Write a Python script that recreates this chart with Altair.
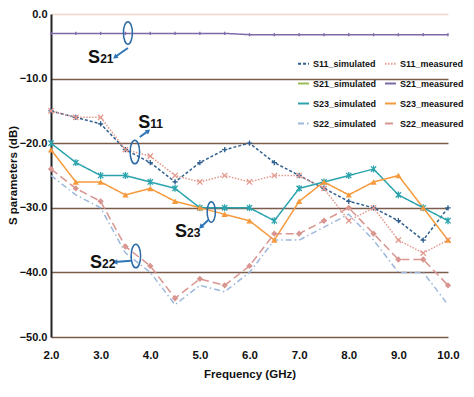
import altair as alt
import pandas as pd

# ---------------- data ----------------
freq = [2.0, 2.5, 3.0, 3.5, 4.0, 4.5, 5.0, 5.5, 6.0, 6.5, 7.0, 7.5, 8.0, 8.5, 9.0, 9.5, 10.0]
s11_sim = [-15, -16, -17, -21, -23, -26, -23, -21, -20, -23, -25, -27, -29, -30, -32, -35, -30]
s11_meas = [-15, -16, -16, -21, -22, -25, -26, -25, -26, -25, -25, -27, -32, -30, -35, -37, -35]
s21_sim = [-3, -3, -3, -3, -3, -3, -3, -3, -3.2, -3.2, -3.2, -3.2, -3.2, -3.2, -3.2, -3.2, -3.2]
s21_meas = [-3, -3, -3, -3, -3, -3, -3, -3, -3.2, -3.2, -3.2, -3.2, -3.2, -3.2, -3.2, -3.2, -3.2]
s23_sim = [-20, -23, -25, -25, -26, -27, -30, -30, -30, -32, -27, -26, -25, -24, -28, -30, -32]
s23_meas = [-21, -26, -26, -28, -27, -29, -30, -31, -32, -35, -29, -26, -28, -26, -25, -30, -35]
s22_sim = [-25, -28, -30, -37, -40, -45, -42, -43, -40, -35, -35, -33, -31, -35, -40, -40, -45]
s22_meas = [-24, -27, -29, -36, -39, -44, -41, -42, -39, -34, -34, -32, -30, -34, -38, -38, -42]

series_names = ["S11_simulated", "S11_measured", "S21_simulated", "S21_measured",
                "S23_simulated", "S23_measured", "S22_simulated", "S22_measured"]
series_values = [s11_sim, s11_meas, s21_sim, s21_meas, s23_sim, s23_meas, s22_sim, s22_meas]

y_ticks = [-50, -45, -40, -35, -30, -25, -20, -15, -10, -5, 0]

# annotation labels (data units)
ann_main = ["S", "S", "S", "S"]
ann_sub = ["21", "11", "23", "22"]
ann_x = [2.99, 4.0, 4.74, 3.03]
ann_y = [-7.6, -17.65, -34.5, -39.3]
ell_x = [3.55, 3.69, 5.23, 3.71]
ell_y = [-2.94, -21.36, -30.65, -37.46]
ell_size = [500, 560, 420, 560]
arr_x1 = [3.55, 3.79, 5.17, 3.61]
arr_y1 = [-5.26, -19.04, -31.9, -38.2]
arr_x2 = [3.29, 3.96, 5.02, 3.29]
arr_y2 = [-6.66, -18.1, -32.97, -38.4]
arr_angle = [235, 53, 225, 266]

# ---------------- styles ----------------
FONT = "Liberation Sans, Arial, sans-serif"
colors = ["#2f5f8f", "#e3998e", "#9bbb59", "#7d68a8", "#2aa3ad", "#f59a3c", "#9bb8dc", "#d99590"]
dashes = [[3, 2], [1.5, 1.5], [1, 0], [1, 0], [1, 0], [1, 0], [6, 3, 1.5, 3], [8, 4]]
widths = [1.5, 1.5, 1.8, 1.8, 2, 2.2, 1.5, 2.5]
stroke_shapes = {
    "S11_simulated": "M-1,0L1,0M0,-1L0,1",
    "S11_measured": "M-1,-1L1,1M-1,1L1,-1",
    "S21_measured": "M0,-0.6L0,0.6",
    "S23_simulated": "M-1,-1L1,1M-1,1L1,-1M0,-1.3L0,1.3",
}
stroke_sizes = [28, 28, 14, 28]
fill_shapes = {"S23_measured": "triangle-up", "S22_measured": "diamond"}

rows = []
for name, vals in zip(series_names, series_values):
    for f, v in zip(freq, vals):
        rows.append({"freq": f, "db": v, "series": name})
df = pd.DataFrame(rows)

ann = pd.DataFrame({"main": ann_main, "sub": ann_sub, "x": ann_x, "y": ann_y,
                    "ex": ell_x, "ey": ell_y, "es": ell_size,
                    "x1": arr_x1, "y1": arr_y1, "x2": arr_x2, "y2": arr_y2, "ang": arr_angle})

xscale = alt.Scale(domain=[2, 10], nice=False, zero=False)
yscale = alt.Scale(domain=[-50, 0], nice=False)

x_enc = alt.X("freq:Q", scale=xscale, title="Frequency (GHz)",
              axis=alt.Axis(values=freq, format=".1f", grid=False, domain=False, ticks=False,
                            labelPadding=12, labelFontSize=11.5, labelFontWeight="bold",
                            labelFont=FONT, labelColor="#111", titleFont=FONT,
                            titleFontSize=11.5, titleFontWeight="bold", titleColor="#111",
                            titlePadding=8, labelFlush=False))
y_enc = alt.Y("db:Q", scale=yscale, title="S parameters (dB)",
              axis=alt.Axis(values=y_ticks, format=".1f", grid=True,
                            gridColor={"condition": [{"test": "datum.value === -35", "value": "#1a1a1a"},
                                                     {"test": "datum.value === 0", "value": "#f2d6c8"}],
                                       "value": "#7b5c4b"},
                            gridWidth=1.5, domain=True, domainColor="#222", domainWidth=2,
                            ticks=False, labelPadding=4, labelFontSize=11, labelFontWeight="bold",
                            labelFont=FONT, labelColor="#111", titleFont=FONT, titleFontSize=11.5,
                            titleFontWeight="bold", titleColor="#111",
                            titleX=-38, titleY=161, titleAngle=270, titleAlign="center",
                            titleBaseline="middle"))

color_scale = alt.Scale(domain=series_names, range=colors)
color_enc = alt.Color("series:N", scale=color_scale,
                      legend=alt.Legend(title=None, orient="none", legendX=246, legendY=43,
                                        columns=2, direction="horizontal", symbolType="stroke",
                                        symbolSize=120, symbolStrokeWidth=2, labelFont=FONT,
                                        labelFontSize=9, labelFontWeight="bold", labelColor="#111",
                                        rowPadding=8, columnPadding=4, labelOffset=3))
dash_enc = alt.StrokeDash("series:N", scale=alt.Scale(domain=series_names, range=dashes), legend=None)
size_enc = alt.Size("series:N", scale=alt.Scale(domain=series_names, range=widths), legend=None)

# S21_simulated coincides with (and is hidden under) S21_measured in the reference
lines = alt.Chart(df).transform_filter(
    alt.datum.series != "S21_simulated"
).mark_line().encode(
    x=x_enc, y=y_enc, color=color_enc, strokeDash=dash_enc, size=size_enc,
    order=alt.Order("freq:Q"),
)

stroke_pts = alt.Chart(df).transform_filter(
    alt.FieldOneOfPredicate(field="series", oneOf=list(stroke_shapes.keys()))
).mark_point(filled=False, strokeWidth=1.3, opacity=1).encode(
    x="freq:Q", y="db:Q",
    color=alt.Color("series:N", legend=None),
    shape=alt.Shape("series:N", scale=alt.Scale(domain=list(stroke_shapes.keys()),
                                                 range=list(stroke_shapes.values())), legend=None),
    size=alt.Size("series:N", scale=alt.Scale(domain=list(stroke_shapes.keys()),
                                               range=stroke_sizes), legend=None),
)

fill_pts = alt.Chart(df).transform_filter(
    alt.FieldOneOfPredicate(field="series", oneOf=list(fill_shapes.keys()))
).mark_point(filled=True, size=40, opacity=1).encode(
    x="freq:Q", y="db:Q",
    color=alt.Color("series:N", legend=None),
    shape=alt.Shape("series:N", scale=alt.Scale(domain=list(fill_shapes.keys()),
                                                 range=list(fill_shapes.values())), legend=None),
)

base_ann = alt.Chart(ann)
ellipses = base_ann.mark_point(
    shape="M0,-1A0.4,1,0,1,1,0,1A0.4,1,0,1,1,0,-1Z", filled=False,
    stroke="#2b6aa6", strokeWidth=1.5, opacity=1
).encode(x=alt.X("ex:Q"), y=alt.Y("ey:Q"), size=alt.Size("es:Q", scale=None, legend=None))
arrows = base_ann.mark_rule(color="#2e75b6", strokeWidth=2).encode(
    x="x1:Q", y="y1:Q", x2="x2:Q", y2="y2:Q")
heads = base_ann.mark_point(shape="triangle-up", filled=True, color="#2e75b6", size=30, opacity=1).encode(
    x="x2:Q", y="y2:Q", angle=alt.Angle("ang:Q", scale=None))
txt_main = base_ann.mark_text(align="right", baseline="alphabetic", font=FONT, fontSize=18,
                              fontWeight="bold", color="#111").encode(x="x:Q", y="y:Q", text="main:N")
txt_sub = base_ann.mark_text(align="left", baseline="alphabetic", font=FONT, fontSize=12,
                             fontWeight="bold", color="#111").encode(x="x:Q", y="y:Q", text="sub:N")

chart = alt.layer(lines, stroke_pts, fill_pts, ellipses, arrows, heads,
                  txt_main, txt_sub).resolve_scale(
    shape="independent", size="independent"
).properties(
    width=397, height=323,
    autosize=alt.AutoSizeParams(type="none"),
    padding={"left": 43, "top": 6, "right": 18, "bottom": 52},
    background="#ffffff",
).configure_view(stroke=None)

chart.save("out.html", embed_options={"renderer": "svg", "actions": False})
